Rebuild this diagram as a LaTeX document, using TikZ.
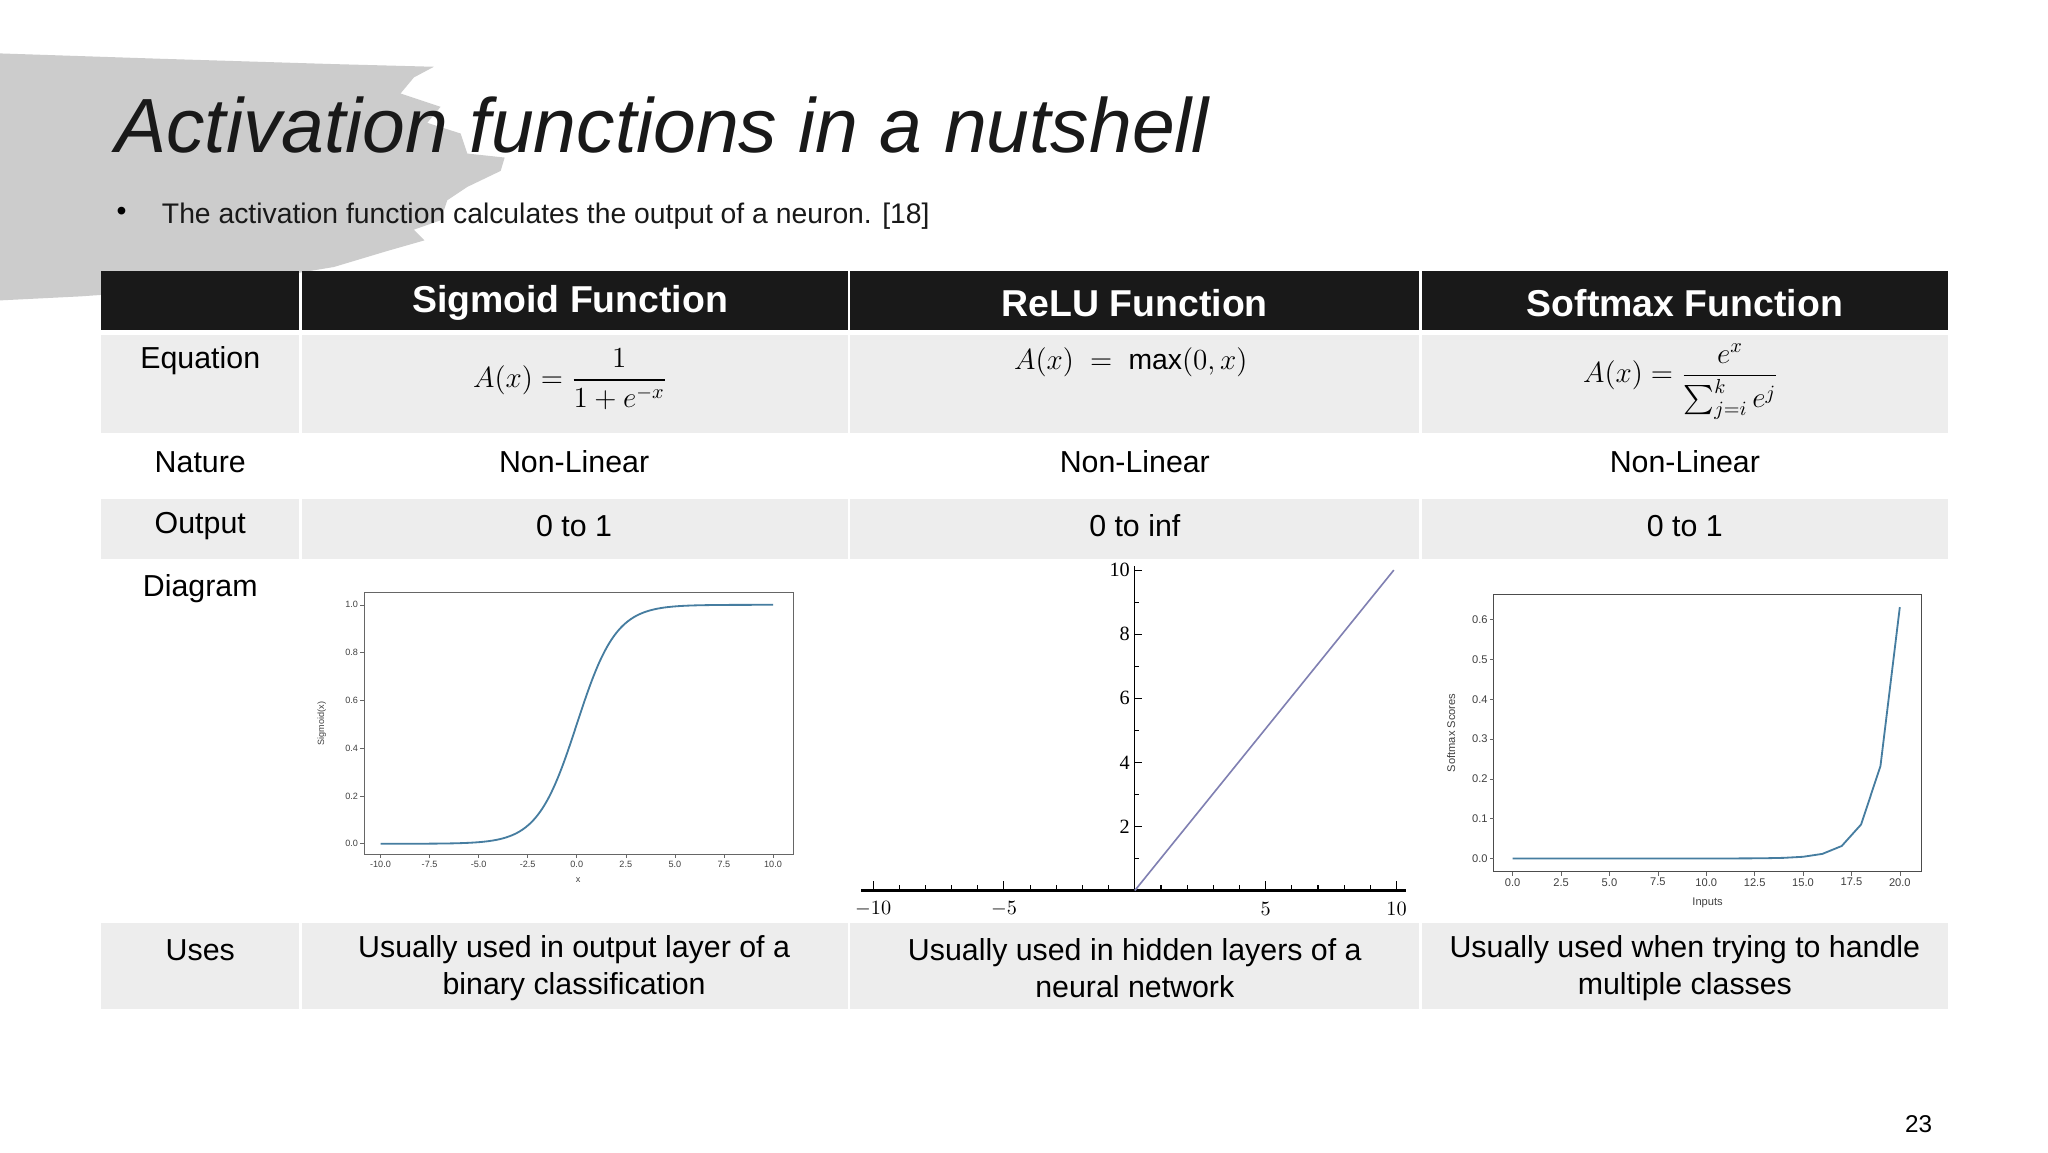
\documentclass[tikz,border=0pt]{standalone}
\usepackage{fontspec}
\setmainfont{Liberation Sans}
\newfontfamily\serifnum{Liberation Serif}
\usepackage{amsmath}
\begin{document}
\begin{tikzpicture}[x=0.66pt,y=-0.66pt,
  txt/.style={font=\fontsize{15}{18}\selectfont,align=center,inner sep=0},
  htxt/.style={font=\fontsize{18.5}{22}\selectfont\bfseries,text=white,inner sep=0},
  tick/.style={font=\fontsize{4.5}{5}\selectfont,text=black!75,inner sep=1pt},
  curve/.style={color={rgb,255:red,70;green,125;blue,160},line width=0.9pt}]
\useasboundingbox (0,0) rectangle (1534,863);
\fill[white] (0,0) rectangle (1534,863);
% brush stroke
\fill[black!20] (0,40) -- (120,44) -- (250,48) -- (325,50) -- (310,58) -- (300,70) -- (330,80) -- (320,92) -- (345,100) -- (350,115) -- (378,118) -- (375,128) -- (350,140) -- (335,150) -- (330,165) -- (310,172) -- (318,180) -- (290,188) -- (250,200) -- (160,215) -- (60,222) -- (0,225) -- cycle;
\node[anchor=west,inner sep=0,font=\fontsize{38}{44}\selectfont\itshape,text=black!90] (title) at (86,94) {Activation functions in a nutshell};
\node[inner sep=0,font=\fontsize{14}{16}\selectfont] (bul) at (91,160) {\textbullet};
\node[anchor=west,inner sep=0,font=\fontsize{14}{16}\selectfont,text=black!90] (sub) at (121,162) {The activation function calculates the output of a neuron. [18]};
% table cells
\foreach \a/\b in {75/225,225/636,636/1064,1064/1460}{
  \fill[black!90] (\a+1,203) rectangle (\b-1,247);
  \fill[black!7] (\a+1,251) rectangle (\b-1,324);
  \fill[black!7] (\a+1,374) rectangle (\b-1,419);
  \fill[black!7] (\a+1,691) rectangle (\b-1,756);
}
\node[htxt] (h1) at (427,227) {Sigmoid Function};
\node[htxt] (h2) at (850,227) {ReLU Function};
\node[htxt] (h3) at (1262,227) {Softmax Function};
\node[txt] (lEq) at (150,270) {Equation};
\node[txt] (lNa) at (150,346) {Nature};
\node[txt] (lOu) at (150,394) {Output};
\node[txt] (lDi) at (150,441) {Diagram};
\node[txt] (lUs) at (150,712) {Uses};
\node[inner sep=0,font=\fontsize{14}{16}\selectfont] (e1) at (427,284) {$A(x)=\dfrac{1}{1+e^{-x}}$};
\node[inner sep=0,font=\fontsize{14}{16}\selectfont] (e2) at (847,271) {$A(x)\;=\;\max(0,x)$};
\node[inner sep=0,font=\fontsize{14}{16}\selectfont] (e3) at (1259,286) {$A(x)=\dfrac{e^{x}}{\sum_{j=i}^{k}e^{j}}$};
\node[txt] (n1) at (430,346) {Non-Linear};
\node[txt] (n2) at (850,346) {Non-Linear};
\node[txt] (n3) at (1262,346) {Non-Linear};
\node[txt] (o1) at (430,394) {0 to 1};
\node[txt] (o2) at (850,394) {0 to inf};
\node[txt] (o3) at (1262,394) {0 to 1};
\node[txt,font=\fontsize{15}{18.5}\selectfont] (u1) at (430,725) {Usually used in output layer of a\\binary classification};
\node[txt,font=\fontsize{15}{18.5}\selectfont] (u2) at (850,725) {Usually used in hidden layers of a\\neural network};
\node[txt,font=\fontsize{15}{18.5}\selectfont] (u3) at (1262,725) {Usually used when trying to handle\\multiple classes};
% sigmoid plot
\draw[black!60,line width=0.5pt] (273,444) rectangle (594,640);
\draw[curve] plot[domain=-10:10,samples=120,smooth] ({285+(\x+10)*14.7},{632-179*(0.5+0.5*tanh(\x/2))});
\foreach \v/\l in {0/-10.0,1/-7.5,2/-5.0,3/-2.5,4/0.0,5/2.5,6/5.0,7/7.5,8/10.0}{
  \draw[black!60,line width=0.3pt] ({285+\v*36.75},640) -- ({285+\v*36.75},643);
  \node[tick,anchor=north] at ({285+\v*36.75},643) {\l};}
\foreach \v/\l in {0/0.0,2/0.2,4/0.4,6/0.6,8/0.8,10/1.0}{
  \draw[black!60,line width=0.3pt] (273,{632-17.9*\v}) -- (270,{632-17.9*\v});
  \node[tick,anchor=east] at (270,{632-17.9*\v}) {\l};}
\node[tick] (sx) at (433,659) {x};
\node[tick,rotate=90] (sy) at (241,542) {Sigmoid(x)};
% relu plot
\draw[black,line width=1.2pt] (645,667) -- (1053,667);
\draw[black,line width=0.6pt] (850,667) -- (850,424);
\foreach \i in {-10,...,10}{\draw[black,line width=0.5pt] ({850+\i*19.6},667) -- ({850+\i*19.6},663);}
\foreach \i in {-10,-5,5,10}{\draw[black,line width=0.5pt] ({850+\i*19.6},667) -- ({850+\i*19.6},660);
  \node[inner sep=0,font=\serifnum\fontsize{10}{11}\selectfont] at ({850+\i*19.6},681) {$\i$};}
\foreach \i in {1,...,10}{\draw[black,line width=0.5pt] (850,{667-\i*24}) -- (853,{667-\i*24});}
\foreach \i in {2,4,6,8,10}{\draw[black,line width=0.5pt] (850,{667-\i*24}) -- (855,{667-\i*24});
  \node[anchor=east,inner sep=1pt,font=\serifnum\fontsize{10}{11}\selectfont] at (848,{667-\i*24}) {\i};}
\draw[black!60!blue!50,line width=0.8pt] (850,667) -- (1044,427);
% softmax plot
\draw[black!70,line width=0.5pt] (1119,445) rectangle (1439,653);
\draw[curve] plot[domain=0:20,samples=21] ({1133+\x*14.5},{643-188.3*exp(\x-20)});
\foreach \v/\l in {0/0.0,1/2.5,2/5.0,3/7.5,4/10.0,5/12.5,6/15.0,7/17.5,8/20.0}{
  \draw[black!60,line width=0.3pt] ({1133+\v*36.25},653) -- ({1133+\v*36.25},656);
  \node[tick,anchor=north,font=\fontsize{5.5}{6}\selectfont] at ({1133+\v*36.25},656) {\l};}
\foreach \v in {0,1,2,3,4,5,6}{
  \draw[black!60,line width=0.3pt] (1119,{643-29.8*\v}) -- (1116,{643-29.8*\v});
  \node[tick,anchor=east,font=\fontsize{5.5}{6}\selectfont] at (1116,{643-29.8*\v}) {0.\v};}
\node[tick,font=\fontsize{5.5}{6}\selectfont] (smx) at (1279,676) {Inputs};
\node[tick,rotate=90,font=\fontsize{5.5}{6}\selectfont] (smy) at (1087,549) {Softmax Scores};
\node[inner sep=0,font=\fontsize{12}{14}\selectfont] (pg) at (1437,842) {23};
\end{tikzpicture}
\end{document}
